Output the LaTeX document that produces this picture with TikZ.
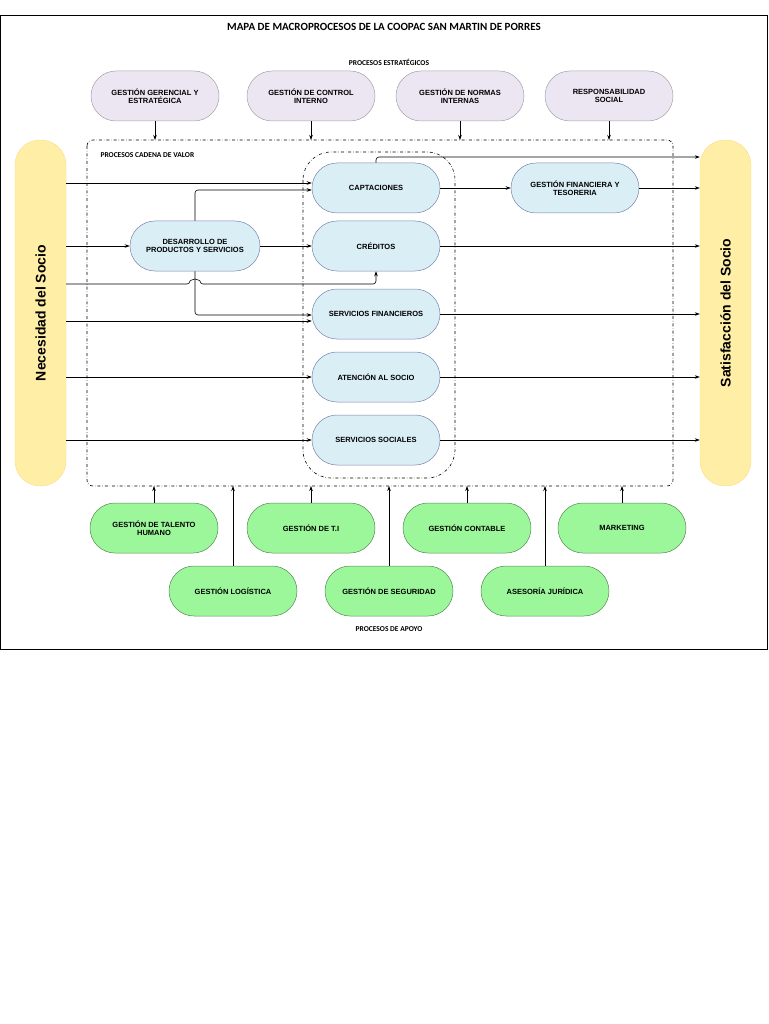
\documentclass[tikz,border=0pt]{standalone}
\usepackage{fontspec}
\setmainfont{Liberation Sans}
\newfontfamily\carlitofont{Carlito}
\usetikzlibrary{arrows.meta}
\definecolor{lav}{HTML}{ECE6F2}
\definecolor{lblue}{HTML}{DAEEF5}
\definecolor{lgreen}{HTML}{9CF79A}
\definecolor{yel}{HTML}{FFEFA6}
\begin{document}
\begin{tikzpicture}[x=1pt,y=-1pt,
 box/.style={rounded corners=25pt,draw=#1!70!black,line width=0.5pt,minimum width=128pt,minimum height=50pt,align=center,font=\fontsize{7.5}{8.5}\selectfont\bfseries},
 strat/.style={box=lav,fill=lav},
 cv/.style={box=lblue!80!blue,fill=lblue},
 sup/.style={box=lgreen!80!black,fill=lgreen},
 arr/.style={-{Stealth[length=5pt,width=3.5pt]},line width=0.6pt},
 lab/.style={font=\carlitofont\fontsize{7.5}{9}\selectfont\bfseries}]
\useasboundingbox (0,0) rectangle (768,1024);
\draw[line width=0.8pt] (0.5,15) rectangle (767.5,649);
\node[font=\carlitofont\fontsize{11}{13}\selectfont\bfseries] (title) at (384,27) {MAPA DE MACROPROCESOS DE LA COOPAC SAN MARTIN DE PORRES};
\node[lab] (pe) at (389,62) {PROCESOS ESTRATÉGICOS};
\node[lab] (pa) at (389,629) {PROCESOS DE APOYO};
\node[lab,anchor=west] (pcv) at (97,155) {PROCESOS CADENA DE VALOR};
% frames
\draw[dash dot,rounded corners=6pt,line width=0.6pt] (87,140) rectangle (673,486);
\draw[dash dot,rounded corners=28pt,line width=0.6pt] (303,152) rectangle (455,478);
\coordinate (ft) at (0,140); \coordinate (fb) at (0,486);
% yellow
\node[draw=yel!80!orange,fill=yel,rounded corners=25pt,minimum width=51pt,minimum height=346pt] (nec) at (40.5,313) {};
\node[rotate=90,font=\fontsize{14}{16}\selectfont\bfseries] (necl) at (nec) {Necesidad del Socio};
\node[draw=yel!80!orange,fill=yel,rounded corners=25pt,minimum width=51pt,minimum height=346pt] (sat) at (725.5,313) {};
\node[rotate=90,font=\fontsize{14}{16}\selectfont\bfseries] (satl) at (sat) {Satisfacción del Socio};
% strategic
\node[strat] (s1) at (155,96) {GESTIÓN GERENCIAL Y\\ESTRATÉGICA};
\node[strat] (s2) at (311,96) {GESTIÓN DE CONTROL\\INTERNO};
\node[strat] (s3) at (460,96) {GESTIÓN DE NORMAS\\INTERNAS};
\node[strat] (s4) at (609,96) {RESPONSABILIDAD\\SOCIAL};
\foreach \s in {s1,s2,s3,s4} \draw[arr] (\s.south) -- (\s.south |- ft);
% value chain
\node[cv] (cap) at (376,188) {CAPTACIONES};
\node[cv] (cre) at (376,246) {CRÉDITOS};
\node[cv] (sf) at (376,314) {SERVICIOS FINANCIEROS};
\node[cv] (at) at (376,377) {ATENCIÓN AL SOCIO};
\node[cv] (ss) at (376,440) {SERVICIOS SOCIALES};
\node[cv,minimum width=130pt] (des) at (195,246) {DESARROLLO DE\\PRODUCTOS Y SERVICIOS};
\node[cv] (gf) at (575,188) {GESTIÓN FINANCIERA Y\\TESORERIA};
\draw[arr] (nec.east |- 0,183) -- (cap.west |- 0,183);
\draw[arr,rounded corners=3pt] (des.north) |- (cap.west |- 0,190);
\draw[arr] (nec.east |- des) -- (des);
\draw[arr] (des) -- (cre);
\draw[arr,rounded corners=3pt] (nec.east |- 0,284) -- (190,284) arc[start angle=180,end angle=0,radius=5pt] -- (376,284) -- (cre.south);
\draw[arr,rounded corners=3pt] (des.south) |- (sf.west |- 0,315);
\draw[arr] (nec.east |- 0,321) -- (sf.west |- 0,321);
\draw[arr] (nec.east |- at) -- (at);
\draw[arr] (nec.east |- ss) -- (ss);
\draw[arr,rounded corners=3pt] (cap.north) |- (sat.west |- 0,157);
\draw[arr] (cap) -- (gf);
\draw[arr] (gf) -- (sat.west |- gf);
\foreach \n in {cre,sf,at,ss} \draw[arr] (\n) -- (sat.west |- \n);
% support
\node[sup] (g1) at (154,528) {GESTIÓN DE TALENTO\\HUMANO};
\node[sup] (g2) at (311,528) {GESTIÓN DE T.I};
\node[sup] (g3) at (467,528) {GESTIÓN CONTABLE};
\node[sup] (g4) at (622,528) {MARKETING};
\node[sup] (g5) at (233,591) {GESTIÓN LOGÍSTICA};
\node[sup] (g6) at (389,591) {GESTIÓN DE SEGURIDAD};
\node[sup] (g7) at (545,591) {ASESORÍA JURÍDICA};
\foreach \g in {g1,g2,g3,g4,g5,g6,g7} \draw[arr] (\g.north) -- (\g.north |- fb);
\end{tikzpicture}
\end{document}
